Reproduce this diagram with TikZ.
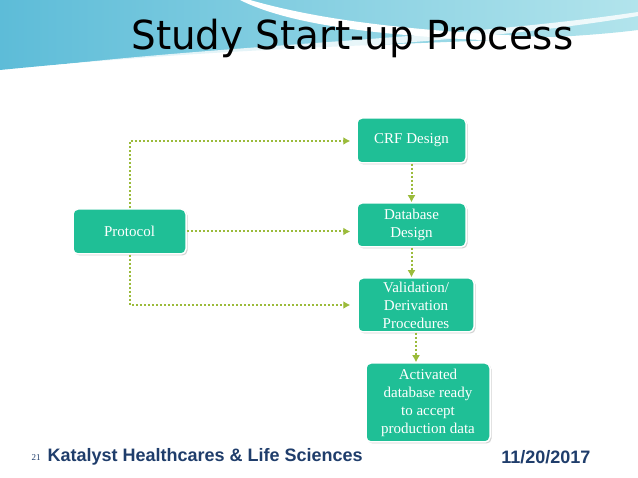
\documentclass[tikz,border=0pt]{standalone}
\usepackage{fontspec}
\setmainfont{Liberation Serif}
\newfontfamily\titlefont{DejaVu Sans}
\newfontfamily\footfont{Liberation Sans}
\usetikzlibrary{shadows,arrows.meta}
\definecolor{boxg}{HTML}{1FBF96}
\definecolor{arrg}{HTML}{9BBB3B}
\definecolor{skyl}{HTML}{5DBCD8}
\definecolor{skyr}{HTML}{B2E4EC}
\definecolor{foot}{HTML}{1F3D6B}
\begin{document}
\begin{tikzpicture}[x=1pt,y=-1pt,
  pbox/.style={draw=white,line width=1.5pt,fill=boxg,rounded corners=5pt,text=white,align=center,
    font=\fontsize{15}{18}\selectfont,drop shadow={opacity=0.35,shadow xshift=1.5pt,shadow yshift=-1.5pt},inner sep=0pt},
  flow/.style={arrg,line width=2pt,dotted,-{Latex[length=7pt,width=8pt]}}]
\useasboundingbox (0,0) rectangle (638,478);
\fill[white] (0,0) rectangle (638,478);
% top swoosh
\shade[left color=skyl,right color=skyr] (0,0) -- (638,0) -- (638,30) .. controls (520,45) and (300,40) .. (0,70) -- cycle;
\fill[white,opacity=0.8] (0,72) .. controls (200,45) and (450,40) .. (638,12) -- (638,16) .. controls (450,48) and (200,52) .. (0,74) -- cycle;
\fill[white] (250,0) .. controls (320,20) and (420,35) .. (638,40) -- (638,44) .. controls (420,42) and (300,30) .. (240,0) -- cycle;
\fill[white] (0,74) .. controls (300,45) and (500,45) .. (638,35) -- (638,478) -- (0,478) -- cycle;
\node[anchor=west,font=\titlefont\fontsize{40}{44}\selectfont,xscale=0.97] (t) at (128,38) {Study Start-up Process};
% boxes
\node[pbox,minimum width=113pt,minimum height=45pt] (p) at (129.5,231.5) {Protocol};
\node[pbox,minimum width=109pt,minimum height=45pt] (c) at (411.5,140.5) {CRF Design};
\node[pbox,minimum width=109pt,minimum height=44pt] (d) at (411.5,225) {Database\\Design};
\node[pbox,minimum width=116pt,minimum height=54pt] (v) at (416,305) {Validation/\\Derivation\\Procedures};
\node[pbox,minimum width=124pt,minimum height=79pt] (a) at (428,402.5) {Activated\\database ready\\to accept\\production data};
\coordinate (pt) at (130,141);
\coordinate (pb) at (130,305);
\draw[flow] (p.north -| pt) -- (pt) -- ([xshift=-6pt]pt -| c.west);
\draw[flow] (p.east) -- ([xshift=-6pt]p.east -| d.west);
\draw[flow] (p.south -| pb) -- (pb) -- ([xshift=-7pt]pb -| v.west);
\draw[flow] (c.south) -- (d.north);
\draw[flow] (d.south) -- (d.south |- v.north);
\draw[flow] (v.south) -- (v.south |- a.north);
% footer
\node[anchor=west,font=\fontsize{9}{10}\selectfont,text=foot] (n) at (28,458) {21};
\node[anchor=west,font=\footfont\bfseries\fontsize{18}{20}\selectfont,text=foot] (k) at (44,457) {Katalyst Healthcares \& Life Sciences};
\node[anchor=east,font=\footfont\bfseries\fontsize{18}{20}\selectfont,text=foot] (dt) at (594,457) {11/20/2017};
\end{tikzpicture}
\end{document}
